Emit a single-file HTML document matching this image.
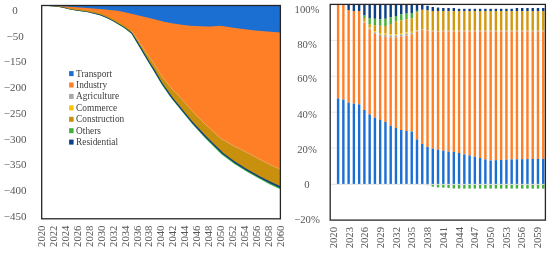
<!DOCTYPE html>
<html lang="en">
<head>
<meta charset="utf-8">
<title>Emission reductions by sector</title>
<style>
html,body{margin:0;padding:0;background:#fff;}
body{width:550px;height:253px;overflow:hidden;}
svg{display:block;}
text{font-family:"Liberation Serif","Times New Roman",serif;}
.ax text{font-size:10.67px;fill:#555555;}
.lg text{font-size:9.33px;fill:#404040;}
</style>
</head>
<body>
<svg width="550" height="253" viewBox="0 0 550 253">
<rect width="550" height="253" fill="#fff"/>
<!-- left chart: stacked areas -->
<clipPath id="lc"><rect x="41.7" y="5.5" width="238.7" height="213.3"/></clipPath>
<g clip-path="url(#lc)">
<polygon points="42.0,5.4 280.3,5.4 280.3,189.2 270.0,184.4 258.0,178.1 250.0,173.6 246.0,171.3 240.0,167.6 234.0,163.8 230.0,160.8 221.6,154.5 220.0,152.9 212.0,145.0 210.0,143.0 204.0,137.0 200.0,132.6 192.0,123.8 190.0,121.3 184.0,114.0 180.0,109.1 172.0,99.2 170.0,96.4 161.8,84.8 160.0,81.7 154.0,71.5 150.0,65.0 146.6,59.4 140.0,48.3 137.0,43.2 131.4,33.7 123.7,27.8 111.9,20.7 106.0,17.8 100.0,15.3 88.0,12.3 76.0,10.6 70.0,9.6 64.0,8.0 58.0,6.7 42.0,5.4" fill="#44B03A"/>
<polygon points="42.0,5.4 280.3,5.4 280.7,188.3 270.4,183.5 258.5,177.3 250.5,172.7 246.5,170.5 240.5,166.8 234.5,163.0 230.6,160.1 222.2,153.8 220.6,152.3 212.6,144.4 210.6,142.4 204.5,136.5 200.5,132.2 192.4,123.4 190.4,121.0 184.4,113.7 180.3,108.8 172.3,99.0 170.3,96.2 162.1,84.6 160.3,81.6 154.2,71.4 150.2,64.8 146.8,59.3 140.2,48.1 137.2,43.1 131.6,33.6 123.8,27.6 112.0,20.6 106.1,17.7 100.0,15.2 88.0,12.2 76.0,10.5 70.0,9.5 64.0,8.0 58.0,6.7 42.0,5.4" fill="#0B3F86"/>
<polygon points="42.0,5.4 280.3,5.4 281.4,186.8 271.1,182.1 259.2,175.9 251.2,171.4 247.2,169.2 241.3,165.5 235.3,161.8 231.4,158.9 223.0,152.7 221.6,151.3 213.5,143.4 211.5,141.5 205.5,135.6 201.5,131.3 193.3,122.6 191.4,120.2 185.3,112.9 181.3,108.0 173.2,98.2 171.3,95.5 163.0,84.0 161.2,81.0 155.2,70.8 151.1,64.3 147.7,58.7 141.1,47.6 138.1,42.6 132.3,32.9 124.3,26.9 112.4,19.9 106.3,17.0 100.2,14.6 88.1,11.7 76.1,10.1 70.1,9.2 64.1,7.6 58.0,6.4 42.0,5.4" fill="#C8900C"/>
<polygon points="42.0,5.4 280.3,5.4 280.3,169.3 270.0,164.6 258.0,158.5 250.0,154.1 246.0,152.1 240.0,148.8 234.0,146.1 230.0,143.8 221.6,139.0 220.0,137.7 212.0,130.5 210.0,128.7 204.0,123.1 200.0,119.0 192.0,110.7 190.0,108.3 184.0,101.6 180.0,97.1 172.0,89.0 170.0,86.6 161.8,76.2 160.0,73.4 154.0,64.0 150.0,58.0 146.6,53.0 140.0,43.1 137.0,38.7 131.4,30.7 123.7,25.0 111.9,18.2 106.0,15.4 100.0,13.1 88.0,10.5 76.0,9.1 70.0,8.3 64.0,7.0 58.0,6.1 42.0,5.4" fill="#FF7F27"/>
<polyline points="131.4,30.7 137.0,38.7 140.0,43.1 146.6,53.0 150.0,58.0 154.0,64.0 160.0,73.4 161.8,76.2 170.0,86.6 172.0,89.0 180.0,97.1 184.0,101.6 190.0,108.3 192.0,110.7 200.0,119.0 204.0,123.1 210.0,128.7 212.0,130.5 220.0,137.7 221.6,139.0 230.0,143.8 234.0,146.1 240.0,148.8 246.0,152.1 250.0,154.1 258.0,158.5 270.0,164.6 280.3,169.3" fill="none" stroke="#F2BA8A" stroke-width="0.6"/>
<polygon points="42.0,5.4 280.3,5.4 280.3,32.4 255.0,30.4 235.0,28.0 220.8,25.7 210.0,26.5 200.0,26.3 190.0,25.7 180.0,24.5 172.0,23.3 165.0,21.9 153.4,18.9 145.0,16.9 135.6,14.7 126.0,12.4 117.8,10.8 110.0,10.0 100.0,9.1 90.0,8.2 80.0,7.5 70.0,6.8 58.0,5.9 42.0,5.4" fill="#1B6ED2"/>
</g>
<rect x="41.7" y="5.5" width="238.7" height="213.3" fill="none" stroke="#262626" stroke-width="1.3"/>
<g class="ax">
<text x="15.1" y="13.75" style="font-size:11px" text-anchor="middle">0</text>
<text x="15.1" y="39.53" style="font-size:11px" text-anchor="middle">−50</text>
<text x="15.1" y="65.31" style="font-size:11px" text-anchor="middle">−150</text>
<text x="15.1" y="91.09" style="font-size:11px" text-anchor="middle">−200</text>
<text x="15.1" y="116.87" style="font-size:11px" text-anchor="middle">−250</text>
<text x="15.1" y="142.65" style="font-size:11px" text-anchor="middle">−300</text>
<text x="15.1" y="168.43" style="font-size:11px" text-anchor="middle">−350</text>
<text x="15.1" y="194.21" style="font-size:11px" text-anchor="middle">−400</text>
<text x="15.1" y="219.99" style="font-size:11px" text-anchor="middle">−450</text>
<text transform="translate(45.00,225.6) rotate(-90)" text-anchor="end">2020</text>
<text transform="translate(56.94,225.6) rotate(-90)" text-anchor="end">2022</text>
<text transform="translate(68.88,225.6) rotate(-90)" text-anchor="end">2024</text>
<text transform="translate(80.82,225.6) rotate(-90)" text-anchor="end">2026</text>
<text transform="translate(92.76,225.6) rotate(-90)" text-anchor="end">2028</text>
<text transform="translate(104.70,225.6) rotate(-90)" text-anchor="end">2030</text>
<text transform="translate(116.64,225.6) rotate(-90)" text-anchor="end">2032</text>
<text transform="translate(128.58,225.6) rotate(-90)" text-anchor="end">2034</text>
<text transform="translate(140.52,225.6) rotate(-90)" text-anchor="end">2036</text>
<text transform="translate(152.46,225.6) rotate(-90)" text-anchor="end">2038</text>
<text transform="translate(164.40,225.6) rotate(-90)" text-anchor="end">2040</text>
<text transform="translate(176.34,225.6) rotate(-90)" text-anchor="end">2042</text>
<text transform="translate(188.28,225.6) rotate(-90)" text-anchor="end">2044</text>
<text transform="translate(200.22,225.6) rotate(-90)" text-anchor="end">2046</text>
<text transform="translate(212.16,225.6) rotate(-90)" text-anchor="end">2048</text>
<text transform="translate(224.10,225.6) rotate(-90)" text-anchor="end">2050</text>
<text transform="translate(236.04,225.6) rotate(-90)" text-anchor="end">2052</text>
<text transform="translate(247.98,225.6) rotate(-90)" text-anchor="end">2054</text>
<text transform="translate(259.92,225.6) rotate(-90)" text-anchor="end">2056</text>
<text transform="translate(271.86,225.6) rotate(-90)" text-anchor="end">2058</text>
<text transform="translate(283.80,225.6) rotate(-90)" text-anchor="end">2060</text>
</g>
<g class="lg">
<rect x="69.1" y="71.1" width="4.5" height="5" fill="#1B6ED2"/><text x="76.1" y="76.6">Transport</text>
<rect x="69.1" y="82.5" width="4.5" height="5" fill="#FF7F27"/><text x="76.1" y="88.0">Industry</text>
<rect x="69.1" y="93.9" width="4.5" height="5" fill="#A5A5A5"/><text x="76.1" y="99.4">Agriculture</text>
<rect x="69.1" y="105.4" width="4.5" height="5" fill="#FFC000"/><text x="76.1" y="110.9">Commerce</text>
<rect x="69.1" y="116.8" width="4.5" height="5" fill="#C8900C"/><text x="76.1" y="122.3">Construction</text>
<rect x="69.1" y="128.2" width="4.5" height="5" fill="#44B03A"/><text x="76.1" y="133.7">Others</text>
<rect x="69.1" y="139.6" width="4.5" height="5" fill="#0B3F86"/><text x="76.1" y="145.1">Residential</text>
</g>
<!-- right chart: stacked share bars -->
<g>
<line x1="330.2" x2="545.4" y1="148.1" y2="148.1" stroke="#E3E3E3" stroke-width="0.8"/>
<line x1="330.2" x2="545.4" y1="112.2" y2="112.2" stroke="#E3E3E3" stroke-width="0.8"/>
<line x1="330.2" x2="545.4" y1="76.3" y2="76.3" stroke="#E3E3E3" stroke-width="0.8"/>
<line x1="330.2" x2="545.4" y1="40.4" y2="40.4" stroke="#E3E3E3" stroke-width="0.8"/>
<rect x="336.90" y="4.6" width="2.4" height="93.8" fill="#FF7F27"/>
<rect x="336.90" y="98.4" width="2.4" height="85.6" fill="#1B6ED2"/>
<rect x="342.16" y="4.6" width="2.4" height="95.0" fill="#FF7F27"/>
<rect x="342.16" y="99.6" width="2.4" height="84.4" fill="#1B6ED2"/>
<rect x="347.42" y="4.6" width="2.4" height="5.4" fill="#0B3F86"/>
<rect x="347.42" y="10.0" width="2.4" height="92.6" fill="#FF7F27"/>
<rect x="347.42" y="102.6" width="2.4" height="81.4" fill="#1B6ED2"/>
<rect x="352.68" y="4.6" width="2.4" height="6.4" fill="#0B3F86"/>
<rect x="352.68" y="11.0" width="2.4" height="92.6" fill="#FF7F27"/>
<rect x="352.68" y="103.6" width="2.4" height="80.4" fill="#1B6ED2"/>
<rect x="357.94" y="4.6" width="2.4" height="6.4" fill="#0B3F86"/>
<rect x="357.94" y="11.0" width="2.4" height="93.4" fill="#FF7F27"/>
<rect x="357.94" y="104.4" width="2.4" height="79.6" fill="#1B6ED2"/>
<rect x="363.20" y="4.6" width="2.4" height="11.0" fill="#0B3F86"/>
<rect x="363.20" y="15.6" width="2.4" height="2.4" fill="#44B03A"/>
<rect x="363.20" y="18.0" width="2.4" height="3.6" fill="#D2980E"/>
<rect x="363.20" y="21.6" width="2.4" height="0.5" fill="#FFC000"/>
<rect x="363.20" y="22.1" width="2.4" height="0.7" fill="#A5A5A5"/>
<rect x="363.20" y="22.8" width="2.4" height="87.2" fill="#FF7F27"/>
<rect x="363.20" y="110.0" width="2.4" height="74.0" fill="#1B6ED2"/>
<rect x="368.46" y="4.6" width="2.4" height="13.4" fill="#0B3F86"/>
<rect x="368.46" y="18.0" width="2.4" height="6.2" fill="#44B03A"/>
<rect x="368.46" y="24.2" width="2.4" height="3.4" fill="#D2980E"/>
<rect x="368.46" y="27.6" width="2.4" height="0.8" fill="#FFC000"/>
<rect x="368.46" y="28.4" width="2.4" height="1.0" fill="#A5A5A5"/>
<rect x="368.46" y="29.4" width="2.4" height="85.0" fill="#FF7F27"/>
<rect x="368.46" y="114.4" width="2.4" height="69.6" fill="#1B6ED2"/>
<rect x="373.72" y="4.6" width="2.4" height="14.2" fill="#0B3F86"/>
<rect x="373.72" y="18.8" width="2.4" height="6.4" fill="#44B03A"/>
<rect x="373.72" y="25.2" width="2.4" height="6.0" fill="#D2980E"/>
<rect x="373.72" y="31.2" width="2.4" height="1.1" fill="#FFC000"/>
<rect x="373.72" y="32.3" width="2.4" height="1.5" fill="#A5A5A5"/>
<rect x="373.72" y="33.8" width="2.4" height="83.8" fill="#FF7F27"/>
<rect x="373.72" y="117.6" width="2.4" height="66.4" fill="#1B6ED2"/>
<rect x="378.98" y="4.6" width="2.4" height="14.6" fill="#0B3F86"/>
<rect x="378.98" y="19.2" width="2.4" height="6.6" fill="#44B03A"/>
<rect x="378.98" y="25.8" width="2.4" height="7.2" fill="#D2980E"/>
<rect x="378.98" y="33.0" width="2.4" height="1.3" fill="#FFC000"/>
<rect x="378.98" y="34.3" width="2.4" height="1.7" fill="#A5A5A5"/>
<rect x="378.98" y="36.0" width="2.4" height="84.0" fill="#FF7F27"/>
<rect x="378.98" y="120.0" width="2.4" height="64.0" fill="#1B6ED2"/>
<rect x="384.24" y="4.6" width="2.4" height="14.2" fill="#0B3F86"/>
<rect x="384.24" y="18.8" width="2.4" height="7.2" fill="#44B03A"/>
<rect x="384.24" y="26.0" width="2.4" height="7.6" fill="#D2980E"/>
<rect x="384.24" y="33.6" width="2.4" height="1.3" fill="#FFC000"/>
<rect x="384.24" y="34.9" width="2.4" height="1.9" fill="#A5A5A5"/>
<rect x="384.24" y="36.8" width="2.4" height="85.2" fill="#FF7F27"/>
<rect x="384.24" y="122.0" width="2.4" height="62.0" fill="#1B6ED2"/>
<rect x="389.50" y="4.6" width="2.4" height="12.6" fill="#0B3F86"/>
<rect x="389.50" y="17.2" width="2.4" height="6.8" fill="#44B03A"/>
<rect x="389.50" y="24.0" width="2.4" height="10.2" fill="#D2980E"/>
<rect x="389.50" y="34.2" width="2.4" height="1.4" fill="#FFC000"/>
<rect x="389.50" y="35.6" width="2.4" height="2.0" fill="#A5A5A5"/>
<rect x="389.50" y="37.6" width="2.4" height="88.0" fill="#FF7F27"/>
<rect x="389.50" y="125.6" width="2.4" height="58.4" fill="#1B6ED2"/>
<rect x="394.76" y="4.6" width="2.4" height="11.4" fill="#0B3F86"/>
<rect x="394.76" y="16.0" width="2.4" height="5.6" fill="#44B03A"/>
<rect x="394.76" y="21.6" width="2.4" height="12.6" fill="#D2980E"/>
<rect x="394.76" y="34.2" width="2.4" height="1.3" fill="#FFC000"/>
<rect x="394.76" y="35.5" width="2.4" height="1.9" fill="#A5A5A5"/>
<rect x="394.76" y="37.4" width="2.4" height="90.6" fill="#FF7F27"/>
<rect x="394.76" y="128.0" width="2.4" height="56.0" fill="#1B6ED2"/>
<rect x="400.02" y="4.6" width="2.4" height="9.8" fill="#0B3F86"/>
<rect x="400.02" y="14.4" width="2.4" height="6.0" fill="#44B03A"/>
<rect x="400.02" y="20.4" width="2.4" height="12.6" fill="#D2980E"/>
<rect x="400.02" y="33.0" width="2.4" height="1.4" fill="#FFC000"/>
<rect x="400.02" y="34.4" width="2.4" height="2.0" fill="#A5A5A5"/>
<rect x="400.02" y="36.4" width="2.4" height="93.6" fill="#FF7F27"/>
<rect x="400.02" y="130.0" width="2.4" height="54.0" fill="#1B6ED2"/>
<rect x="405.28" y="4.6" width="2.4" height="9.0" fill="#0B3F86"/>
<rect x="405.28" y="13.6" width="2.4" height="5.6" fill="#44B03A"/>
<rect x="405.28" y="19.2" width="2.4" height="13.2" fill="#D2980E"/>
<rect x="405.28" y="32.4" width="2.4" height="1.3" fill="#FFC000"/>
<rect x="405.28" y="33.7" width="2.4" height="1.9" fill="#A5A5A5"/>
<rect x="405.28" y="35.6" width="2.4" height="95.4" fill="#FF7F27"/>
<rect x="405.28" y="131.0" width="2.4" height="53.0" fill="#1B6ED2"/>
<rect x="410.54" y="4.6" width="2.4" height="8.4" fill="#0B3F86"/>
<rect x="410.54" y="13.0" width="2.4" height="5.4" fill="#44B03A"/>
<rect x="410.54" y="18.4" width="2.4" height="13.4" fill="#D2980E"/>
<rect x="410.54" y="31.8" width="2.4" height="1.1" fill="#FFC000"/>
<rect x="410.54" y="32.9" width="2.4" height="1.5" fill="#A5A5A5"/>
<rect x="410.54" y="34.4" width="2.4" height="97.2" fill="#FF7F27"/>
<rect x="410.54" y="131.6" width="2.4" height="52.4" fill="#1B6ED2"/>
<rect x="415.80" y="4.6" width="2.4" height="6.2" fill="#0B3F86"/>
<rect x="415.80" y="10.8" width="2.4" height="1.6" fill="#44B03A"/>
<rect x="415.80" y="12.4" width="2.4" height="17.6" fill="#D2980E"/>
<rect x="415.80" y="30.0" width="2.4" height="0.7" fill="#FFC000"/>
<rect x="415.80" y="30.7" width="2.4" height="0.9" fill="#A5A5A5"/>
<rect x="415.80" y="31.6" width="2.4" height="107.8" fill="#FF7F27"/>
<rect x="415.80" y="139.4" width="2.4" height="44.6" fill="#1B6ED2"/>
<rect x="421.06" y="4.6" width="2.4" height="5.2" fill="#0B3F86"/>
<rect x="421.06" y="9.8" width="2.4" height="19.4" fill="#D2980E"/>
<rect x="421.06" y="29.2" width="2.4" height="0.2" fill="#FFC000"/>
<rect x="421.06" y="29.4" width="2.4" height="0.6" fill="#A5A5A5"/>
<rect x="421.06" y="30.0" width="2.4" height="114.0" fill="#FF7F27"/>
<rect x="421.06" y="144.0" width="2.4" height="40.0" fill="#1B6ED2"/>
<rect x="426.32" y="5.8" width="2.4" height="4.7" fill="#0B3F86"/>
<rect x="426.32" y="10.5" width="2.4" height="19.5" fill="#D2980E"/>
<rect x="426.32" y="30.0" width="2.4" height="0.1" fill="#FFC000"/>
<rect x="426.32" y="30.1" width="2.4" height="0.6" fill="#A5A5A5"/>
<rect x="426.32" y="30.7" width="2.4" height="116.3" fill="#FF7F27"/>
<rect x="426.32" y="147.0" width="2.4" height="37.0" fill="#1B6ED2"/>
<rect x="426.32" y="184.7" width="2.4" height="0.5" fill="#44B03A"/>
<rect x="431.58" y="7.0" width="2.4" height="4.0" fill="#0B3F86"/>
<rect x="431.58" y="11.0" width="2.4" height="19.7" fill="#D2980E"/>
<rect x="431.58" y="30.7" width="2.4" height="0.1" fill="#FFC000"/>
<rect x="431.58" y="30.8" width="2.4" height="0.6" fill="#A5A5A5"/>
<rect x="431.58" y="31.4" width="2.4" height="117.2" fill="#FF7F27"/>
<rect x="431.58" y="148.6" width="2.4" height="35.4" fill="#1B6ED2"/>
<rect x="431.58" y="184.7" width="2.4" height="1.9" fill="#44B03A"/>
<rect x="436.84" y="7.6" width="2.4" height="3.4" fill="#0B3F86"/>
<rect x="436.84" y="11.0" width="2.4" height="20.0" fill="#D2980E"/>
<rect x="436.84" y="31.0" width="2.4" height="0.1" fill="#FFC000"/>
<rect x="436.84" y="31.1" width="2.4" height="0.5" fill="#A5A5A5"/>
<rect x="436.84" y="31.6" width="2.4" height="118.0" fill="#FF7F27"/>
<rect x="436.84" y="149.6" width="2.4" height="34.4" fill="#1B6ED2"/>
<rect x="436.84" y="184.7" width="2.4" height="2.7" fill="#44B03A"/>
<rect x="442.10" y="8.0" width="2.4" height="3.1" fill="#0B3F86"/>
<rect x="442.10" y="11.1" width="2.4" height="19.6" fill="#D2980E"/>
<rect x="442.10" y="30.7" width="2.4" height="0.1" fill="#FFC000"/>
<rect x="442.10" y="30.8" width="2.4" height="0.6" fill="#A5A5A5"/>
<rect x="442.10" y="31.4" width="2.4" height="119.2" fill="#FF7F27"/>
<rect x="442.10" y="150.6" width="2.4" height="33.4" fill="#1B6ED2"/>
<rect x="442.10" y="184.7" width="2.4" height="2.9" fill="#44B03A"/>
<rect x="447.36" y="8.0" width="2.4" height="3.1" fill="#0B3F86"/>
<rect x="447.36" y="11.1" width="2.4" height="19.6" fill="#D2980E"/>
<rect x="447.36" y="30.7" width="2.4" height="0.1" fill="#FFC000"/>
<rect x="447.36" y="30.8" width="2.4" height="0.6" fill="#A5A5A5"/>
<rect x="447.36" y="31.4" width="2.4" height="120.2" fill="#FF7F27"/>
<rect x="447.36" y="151.6" width="2.4" height="32.4" fill="#1B6ED2"/>
<rect x="447.36" y="184.7" width="2.4" height="3.2" fill="#44B03A"/>
<rect x="452.62" y="8.0" width="2.4" height="3.1" fill="#0B3F86"/>
<rect x="452.62" y="11.1" width="2.4" height="19.6" fill="#D2980E"/>
<rect x="452.62" y="30.7" width="2.4" height="0.1" fill="#FFC000"/>
<rect x="452.62" y="30.8" width="2.4" height="0.6" fill="#A5A5A5"/>
<rect x="452.62" y="31.4" width="2.4" height="120.6" fill="#FF7F27"/>
<rect x="452.62" y="152.0" width="2.4" height="32.0" fill="#1B6ED2"/>
<rect x="452.62" y="184.7" width="2.4" height="3.8" fill="#44B03A"/>
<rect x="457.88" y="8.8" width="2.4" height="2.3" fill="#0B3F86"/>
<rect x="457.88" y="11.1" width="2.4" height="19.6" fill="#D2980E"/>
<rect x="457.88" y="30.7" width="2.4" height="0.1" fill="#FFC000"/>
<rect x="457.88" y="30.8" width="2.4" height="0.6" fill="#A5A5A5"/>
<rect x="457.88" y="31.4" width="2.4" height="121.6" fill="#FF7F27"/>
<rect x="457.88" y="153.0" width="2.4" height="31.0" fill="#1B6ED2"/>
<rect x="457.88" y="184.7" width="2.4" height="3.9" fill="#44B03A"/>
<rect x="463.14" y="8.8" width="2.4" height="2.3" fill="#0B3F86"/>
<rect x="463.14" y="11.1" width="2.4" height="19.6" fill="#D2980E"/>
<rect x="463.14" y="30.7" width="2.4" height="0.1" fill="#FFC000"/>
<rect x="463.14" y="30.8" width="2.4" height="0.6" fill="#A5A5A5"/>
<rect x="463.14" y="31.4" width="2.4" height="123.0" fill="#FF7F27"/>
<rect x="463.14" y="154.4" width="2.4" height="29.6" fill="#1B6ED2"/>
<rect x="463.14" y="184.7" width="2.4" height="3.9" fill="#44B03A"/>
<rect x="468.40" y="8.8" width="2.4" height="2.3" fill="#0B3F86"/>
<rect x="468.40" y="11.1" width="2.4" height="19.6" fill="#D2980E"/>
<rect x="468.40" y="30.7" width="2.4" height="0.1" fill="#FFC000"/>
<rect x="468.40" y="30.8" width="2.4" height="0.6" fill="#A5A5A5"/>
<rect x="468.40" y="31.4" width="2.4" height="124.0" fill="#FF7F27"/>
<rect x="468.40" y="155.4" width="2.4" height="28.6" fill="#1B6ED2"/>
<rect x="468.40" y="184.7" width="2.4" height="3.9" fill="#44B03A"/>
<rect x="473.66" y="8.8" width="2.4" height="2.3" fill="#0B3F86"/>
<rect x="473.66" y="11.1" width="2.4" height="19.6" fill="#D2980E"/>
<rect x="473.66" y="30.7" width="2.4" height="0.1" fill="#FFC000"/>
<rect x="473.66" y="30.8" width="2.4" height="0.6" fill="#A5A5A5"/>
<rect x="473.66" y="31.4" width="2.4" height="125.2" fill="#FF7F27"/>
<rect x="473.66" y="156.6" width="2.4" height="27.4" fill="#1B6ED2"/>
<rect x="473.66" y="184.7" width="2.4" height="3.9" fill="#44B03A"/>
<rect x="478.92" y="8.8" width="2.4" height="2.3" fill="#0B3F86"/>
<rect x="478.92" y="11.1" width="2.4" height="19.6" fill="#D2980E"/>
<rect x="478.92" y="30.7" width="2.4" height="0.1" fill="#FFC000"/>
<rect x="478.92" y="30.8" width="2.4" height="0.6" fill="#A5A5A5"/>
<rect x="478.92" y="31.4" width="2.4" height="126.6" fill="#FF7F27"/>
<rect x="478.92" y="158.0" width="2.4" height="26.0" fill="#1B6ED2"/>
<rect x="478.92" y="184.7" width="2.4" height="3.9" fill="#44B03A"/>
<rect x="484.18" y="8.8" width="2.4" height="2.3" fill="#0B3F86"/>
<rect x="484.18" y="11.1" width="2.4" height="19.6" fill="#D2980E"/>
<rect x="484.18" y="30.7" width="2.4" height="0.1" fill="#FFC000"/>
<rect x="484.18" y="30.8" width="2.4" height="0.6" fill="#A5A5A5"/>
<rect x="484.18" y="31.4" width="2.4" height="128.0" fill="#FF7F27"/>
<rect x="484.18" y="159.4" width="2.4" height="24.6" fill="#1B6ED2"/>
<rect x="484.18" y="184.7" width="2.4" height="3.9" fill="#44B03A"/>
<rect x="489.44" y="8.8" width="2.4" height="2.3" fill="#0B3F86"/>
<rect x="489.44" y="11.1" width="2.4" height="19.6" fill="#D2980E"/>
<rect x="489.44" y="30.7" width="2.4" height="0.1" fill="#FFC000"/>
<rect x="489.44" y="30.8" width="2.4" height="0.6" fill="#A5A5A5"/>
<rect x="489.44" y="31.4" width="2.4" height="129.2" fill="#FF7F27"/>
<rect x="489.44" y="160.6" width="2.4" height="23.4" fill="#1B6ED2"/>
<rect x="489.44" y="184.7" width="2.4" height="3.9" fill="#44B03A"/>
<rect x="494.70" y="8.8" width="2.4" height="2.3" fill="#0B3F86"/>
<rect x="494.70" y="11.1" width="2.4" height="19.6" fill="#D2980E"/>
<rect x="494.70" y="30.7" width="2.4" height="0.1" fill="#FFC000"/>
<rect x="494.70" y="30.8" width="2.4" height="0.6" fill="#A5A5A5"/>
<rect x="494.70" y="31.4" width="2.4" height="128.8" fill="#FF7F27"/>
<rect x="494.70" y="160.2" width="2.4" height="23.8" fill="#1B6ED2"/>
<rect x="494.70" y="184.7" width="2.4" height="3.9" fill="#44B03A"/>
<rect x="499.96" y="8.8" width="2.4" height="2.3" fill="#0B3F86"/>
<rect x="499.96" y="11.1" width="2.4" height="19.6" fill="#D2980E"/>
<rect x="499.96" y="30.7" width="2.4" height="0.1" fill="#FFC000"/>
<rect x="499.96" y="30.8" width="2.4" height="0.6" fill="#A5A5A5"/>
<rect x="499.96" y="31.4" width="2.4" height="128.6" fill="#FF7F27"/>
<rect x="499.96" y="160.0" width="2.4" height="24.0" fill="#1B6ED2"/>
<rect x="499.96" y="184.7" width="2.4" height="3.9" fill="#44B03A"/>
<rect x="505.22" y="8.8" width="2.4" height="2.3" fill="#0B3F86"/>
<rect x="505.22" y="11.1" width="2.4" height="19.6" fill="#D2980E"/>
<rect x="505.22" y="30.7" width="2.4" height="0.1" fill="#FFC000"/>
<rect x="505.22" y="30.8" width="2.4" height="0.6" fill="#A5A5A5"/>
<rect x="505.22" y="31.4" width="2.4" height="128.2" fill="#FF7F27"/>
<rect x="505.22" y="159.6" width="2.4" height="24.4" fill="#1B6ED2"/>
<rect x="505.22" y="184.7" width="2.4" height="3.9" fill="#44B03A"/>
<rect x="510.48" y="8.8" width="2.4" height="2.3" fill="#0B3F86"/>
<rect x="510.48" y="11.1" width="2.4" height="19.6" fill="#D2980E"/>
<rect x="510.48" y="30.7" width="2.4" height="0.1" fill="#FFC000"/>
<rect x="510.48" y="30.8" width="2.4" height="0.6" fill="#A5A5A5"/>
<rect x="510.48" y="31.4" width="2.4" height="128.0" fill="#FF7F27"/>
<rect x="510.48" y="159.4" width="2.4" height="24.6" fill="#1B6ED2"/>
<rect x="510.48" y="184.7" width="2.4" height="3.9" fill="#44B03A"/>
<rect x="515.74" y="8.0" width="2.4" height="3.1" fill="#0B3F86"/>
<rect x="515.74" y="11.1" width="2.4" height="19.6" fill="#D2980E"/>
<rect x="515.74" y="30.7" width="2.4" height="0.1" fill="#FFC000"/>
<rect x="515.74" y="30.8" width="2.4" height="0.6" fill="#A5A5A5"/>
<rect x="515.74" y="31.4" width="2.4" height="127.9" fill="#FF7F27"/>
<rect x="515.74" y="159.3" width="2.4" height="24.7" fill="#1B6ED2"/>
<rect x="515.74" y="184.7" width="2.4" height="3.9" fill="#44B03A"/>
<rect x="521.00" y="8.0" width="2.4" height="3.1" fill="#0B3F86"/>
<rect x="521.00" y="11.1" width="2.4" height="19.6" fill="#D2980E"/>
<rect x="521.00" y="30.7" width="2.4" height="0.1" fill="#FFC000"/>
<rect x="521.00" y="30.8" width="2.4" height="0.6" fill="#A5A5A5"/>
<rect x="521.00" y="31.4" width="2.4" height="127.8" fill="#FF7F27"/>
<rect x="521.00" y="159.2" width="2.4" height="24.8" fill="#1B6ED2"/>
<rect x="521.00" y="184.7" width="2.4" height="3.9" fill="#44B03A"/>
<rect x="526.26" y="8.0" width="2.4" height="3.1" fill="#0B3F86"/>
<rect x="526.26" y="11.1" width="2.4" height="19.6" fill="#D2980E"/>
<rect x="526.26" y="30.7" width="2.4" height="0.1" fill="#FFC000"/>
<rect x="526.26" y="30.8" width="2.4" height="0.6" fill="#A5A5A5"/>
<rect x="526.26" y="31.4" width="2.4" height="127.7" fill="#FF7F27"/>
<rect x="526.26" y="159.1" width="2.4" height="24.9" fill="#1B6ED2"/>
<rect x="526.26" y="184.7" width="2.4" height="3.9" fill="#44B03A"/>
<rect x="531.52" y="8.0" width="2.4" height="3.1" fill="#0B3F86"/>
<rect x="531.52" y="11.1" width="2.4" height="19.6" fill="#D2980E"/>
<rect x="531.52" y="30.7" width="2.4" height="0.1" fill="#FFC000"/>
<rect x="531.52" y="30.8" width="2.4" height="0.6" fill="#A5A5A5"/>
<rect x="531.52" y="31.4" width="2.4" height="127.6" fill="#FF7F27"/>
<rect x="531.52" y="159.0" width="2.4" height="25.0" fill="#1B6ED2"/>
<rect x="531.52" y="184.7" width="2.4" height="3.9" fill="#44B03A"/>
<rect x="536.78" y="8.0" width="2.4" height="3.1" fill="#0B3F86"/>
<rect x="536.78" y="11.1" width="2.4" height="19.6" fill="#D2980E"/>
<rect x="536.78" y="30.7" width="2.4" height="0.1" fill="#FFC000"/>
<rect x="536.78" y="30.8" width="2.4" height="0.6" fill="#A5A5A5"/>
<rect x="536.78" y="31.4" width="2.4" height="127.5" fill="#FF7F27"/>
<rect x="536.78" y="158.9" width="2.4" height="25.1" fill="#1B6ED2"/>
<rect x="536.78" y="184.7" width="2.4" height="3.9" fill="#44B03A"/>
<rect x="542.04" y="8.0" width="2.4" height="3.1" fill="#0B3F86"/>
<rect x="542.04" y="11.1" width="2.4" height="19.6" fill="#D2980E"/>
<rect x="542.04" y="30.7" width="2.4" height="0.1" fill="#FFC000"/>
<rect x="542.04" y="30.8" width="2.4" height="0.6" fill="#A5A5A5"/>
<rect x="542.04" y="31.4" width="2.4" height="127.4" fill="#FF7F27"/>
<rect x="542.04" y="158.8" width="2.4" height="25.2" fill="#1B6ED2"/>
<rect x="542.04" y="184.7" width="2.4" height="3.9" fill="#44B03A"/>
<line x1="330.2" x2="545.4" y1="184.3" y2="184.3" stroke="#D4D4D4" stroke-width="0.7"/>
</g>
<rect x="330.2" y="4.4" width="215.2" height="215.7" fill="none" stroke="#262626" stroke-width="1.3"/>
<g class="ax">
<text x="307" y="12.9" text-anchor="middle">100%</text>
<text x="307" y="47.5" text-anchor="middle">80%</text>
<text x="307" y="82.3" text-anchor="middle">60%</text>
<text x="307" y="117.7" text-anchor="middle">40%</text>
<text x="307" y="152.8" text-anchor="middle">20%</text>
<text x="307" y="187.6" text-anchor="middle">0</text>
<text x="307" y="222.6" text-anchor="middle">−20%</text>
<text transform="translate(336.80,227) rotate(-90)" text-anchor="end">2020</text>
<text transform="translate(352.52,227) rotate(-90)" text-anchor="end">2023</text>
<text transform="translate(368.24,227) rotate(-90)" text-anchor="end">2026</text>
<text transform="translate(383.96,227) rotate(-90)" text-anchor="end">2029</text>
<text transform="translate(399.68,227) rotate(-90)" text-anchor="end">2032</text>
<text transform="translate(415.40,227) rotate(-90)" text-anchor="end">2035</text>
<text transform="translate(431.12,227) rotate(-90)" text-anchor="end">2038</text>
<text transform="translate(446.84,227) rotate(-90)" text-anchor="end">2041</text>
<text transform="translate(462.56,227) rotate(-90)" text-anchor="end">2044</text>
<text transform="translate(478.28,227) rotate(-90)" text-anchor="end">2047</text>
<text transform="translate(494.00,227) rotate(-90)" text-anchor="end">2050</text>
<text transform="translate(509.72,227) rotate(-90)" text-anchor="end">2053</text>
<text transform="translate(525.44,227) rotate(-90)" text-anchor="end">2056</text>
<text transform="translate(541.16,227) rotate(-90)" text-anchor="end">2059</text>
</g>
</svg>
</body>
</html>
